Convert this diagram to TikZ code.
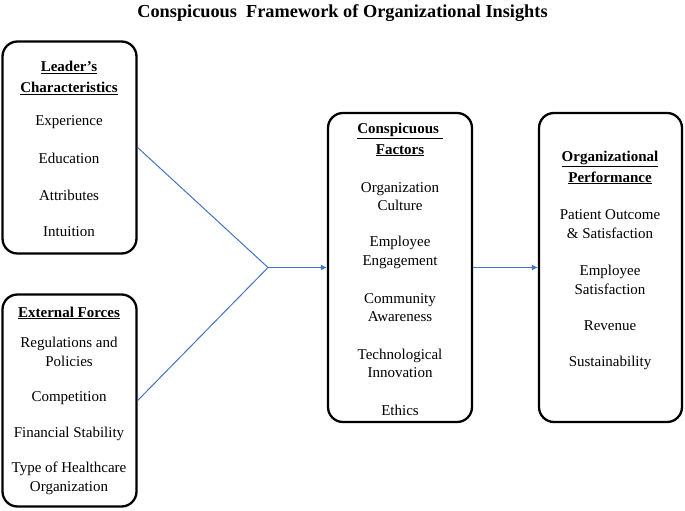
\documentclass[tikz,border=0pt]{standalone}
\usepackage{fontspec}
\setmainfont{Liberation Serif}
\usetikzlibrary{arrows.meta}
\definecolor{linkblue}{RGB}{68,114,196}
\tikzset{
  factorbox/.style={draw=black, line width=2.3pt, rounded corners=15pt, inner sep=0pt},
  itemtext/.style={align=center, font=\fontsize{15}{18.5}\selectfont, inner sep=0pt},
  headtext/.style={align=center, font=\fontsize{15}{21}\selectfont\bfseries, inner sep=0pt},
  link/.style={draw=linkblue, line width=1pt}
}
\begin{document}
\begin{tikzpicture}[x=1pt,y=-1pt]
  \useasboundingbox (0,0) rectangle (685,511);
  %titre
  \node[font=\fontsize{18.3}{21}\selectfont\bfseries] (title) at (342.5,13.5) {Conspicuous~ Framework of Organizational Insights};

  %cadres
  \node[factorbox, minimum width=134pt, minimum height=212pt] (lead) at (69.5,147.5) {};
  \node[factorbox, minimum width=134pt, minimum height=212pt] (ext) at (69.5,400.5) {};
  \node[factorbox, minimum width=144pt, minimum height=309pt] (consp) at (400,267.5) {};
  \node[factorbox, minimum width=143pt, minimum height=309pt] (perf) at (610.5,267.5) {};

  %Leader's characteristics
  \node[headtext] (leadhead) at (69,78) {\underline{Leader’s}\\\underline{Characteristics}};
  \node[itemtext] (lead1) at (69,122) {Experience};
  \node[itemtext] (lead2) at (69,158) {Education};
  \node[itemtext] (lead3) at (69,195) {Attributes};
  \node[itemtext] (lead4) at (69,232) {Intuition};

  %External forces
  \node[headtext] (exthead) at (69,313) {\underline{External Forces}};
  \node[itemtext] (ext1) at (69,352) {Regulations and\\Policies};
  \node[itemtext] (ext2) at (69,398) {Competition};
  \node[itemtext] (ext3) at (69,434) {Financial Stability};
  \node[itemtext] (ext4) at (69,478.5) {Type of Healthcare\\Organization};

  %Conspicuous factors
  \node[headtext] (conshead) at (400,139.5) {\underline{Conspicuous\ }\\\underline{Factors}};
  \node[itemtext] (cons1) at (400,196.5) {Organization\\Culture};
  \node[itemtext] (cons2) at (400,252.5) {Employee\\Engagement};
  \node[itemtext] (cons3) at (400,307.5) {Community\\Awareness};
  \node[itemtext] (cons4) at (400,363.5) {Technological\\Innovation};
  \node[itemtext] (cons5) at (400,410) {Ethics};

  %Organizational performance
  \node[headtext] (perfhead) at (610,167.5) {\underline{Organizational}\\\underline{Performance}};
  \node[itemtext] (perf1) at (610,224) {Patient Outcome\\\& Satisfaction};
  \node[itemtext] (perf2) at (610,280) {Employee\\Satisfaction};
  \node[itemtext] (perf3) at (610,326) {Revenue};
  \node[itemtext] (perf4) at (610,363) {Sustainability};

  %liens
  \coordinate (join) at (268,267.5);
  \draw[link] (lead.east) -- (join);
  \draw[link] (ext.east) -- (join);
  \draw[link,-{Latex[length=6pt,width=6pt]}] (join) -- (consp.west);
  \draw[link,-{Latex[length=6pt,width=6pt]}] (consp.east) -- (perf.west);
\end{tikzpicture}
\end{document}
